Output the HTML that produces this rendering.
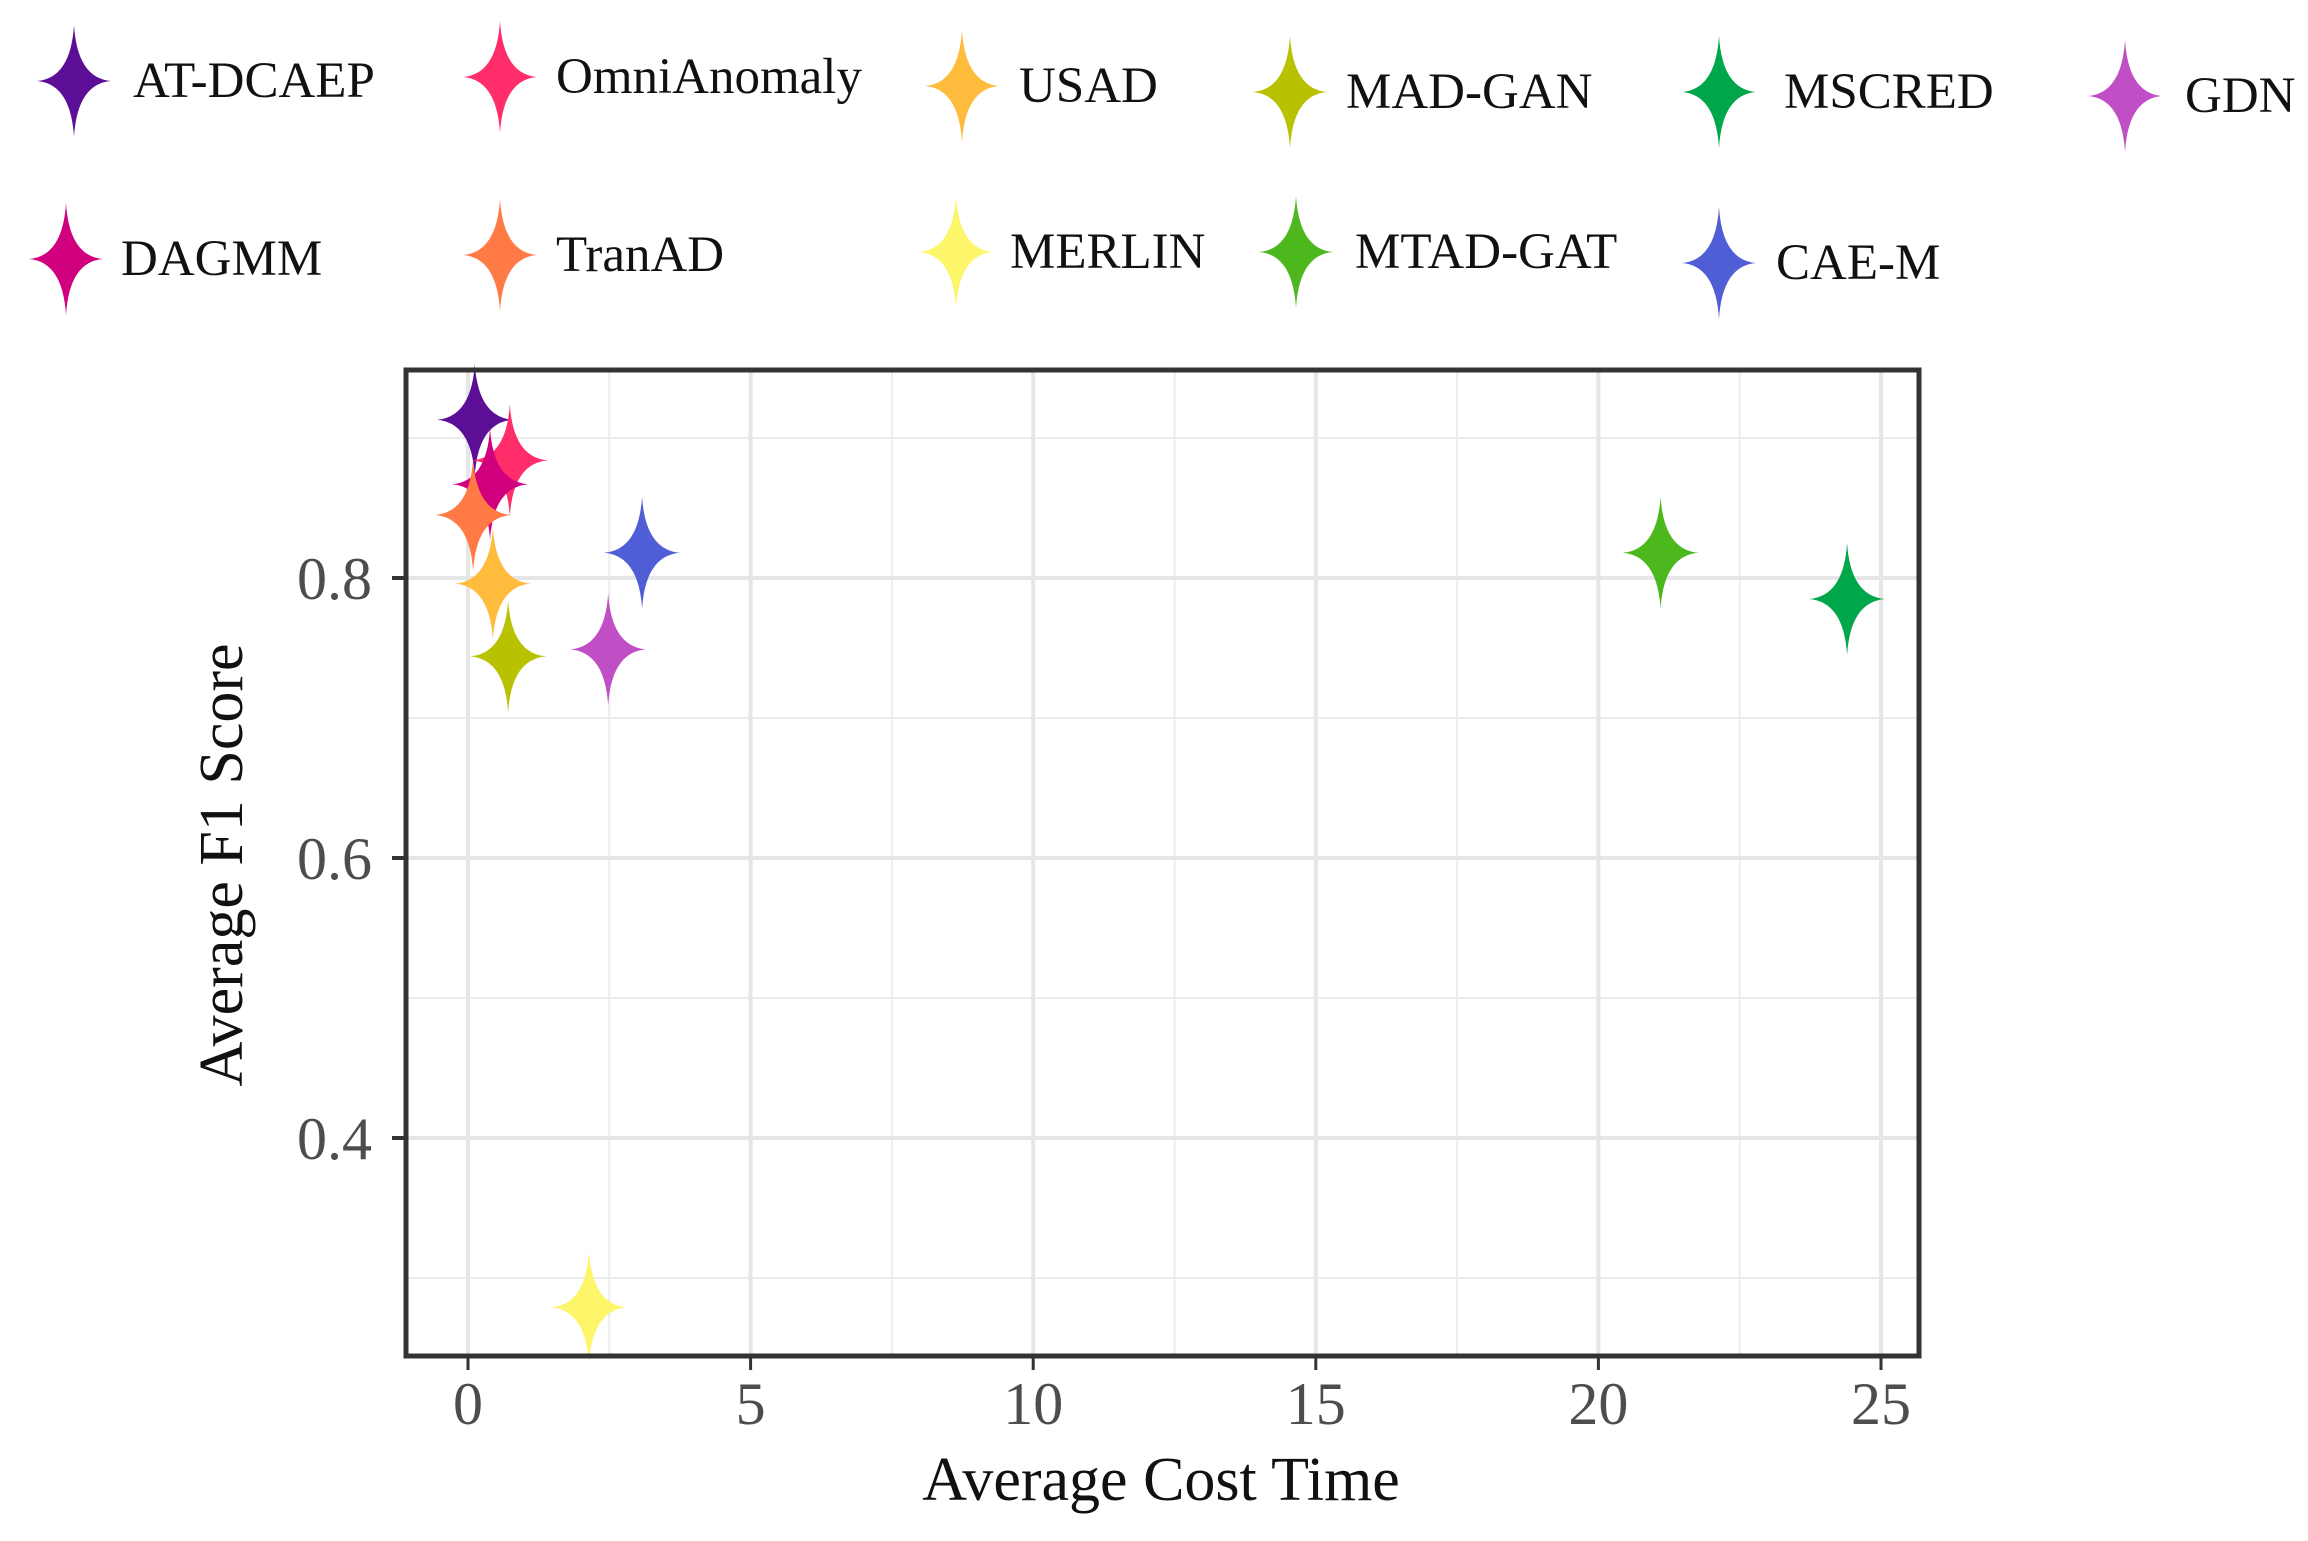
<!DOCTYPE html>
<html><head><meta charset="utf-8"><style>
html,body{margin:0;padding:0;background:#fff;}
svg{display:block;}
text{font-family:"Liberation Serif",serif;}
</style></head><body>
<svg id="chart" width="2308" height="1541" viewBox="0 0 2308 1541" xmlns="http://www.w3.org/2000/svg">
<g id="grid"></g>
<g id="marks"></g>
<rect x="406" y="370" width="1513" height="986" fill="none" stroke="#333" stroke-width="5"/>
<g id="axes"></g>
<g id="legend"></g>
<text x="1161" y="1500" font-size="62" text-anchor="middle" fill="#111">Average Cost Time</text>
<text x="0" y="0" font-size="62" text-anchor="middle" fill="#111" transform="translate(242,865) rotate(-90)">Average F1 Score</text>
</svg>
<script>
const methods=["AT-DCAEP","OmniAnomaly","USAD","MAD-GAN","MSCRED","GDN","DAGMM","TranAD","MERLIN","MTAD-GAT","CAE-M"];
const costTime=[0.12,0.74,0.44,0.71,24.4,2.48,0.39,0.09,2.14,21.1,3.08];
const f1Score=[0.913,0.884,0.796,0.744,0.785,0.749,0.867,0.845,0.279,0.818,0.818];
const colors=["#5c0f96","#ff2d6a","#ffbb3c","#b8c200","#00a64a","#c04fc6","#d1007f","#ff7a45","#fdf56a","#4cb81e","#505ed6"];
const xTicks=[0,5,10,15,20,25];
const xMinor=[2.5,7.5,12.5,17.5,22.5];
const yTicks=[0.4,0.6,0.8];
const yMinor=[0.3,0.5,0.7,0.9];
const yTickLabels=["0.4","0.6","0.8"];

const NS="http://www.w3.org/2000/svg";
const X0=406,X1=1919,Y0=370,Y1=1356;
function xs(v){return 468+(v-0)*(1881-468)/25;}
function ys(v){return 578-(v-0.8)*1400;}
function mk(tag,attrs,parent){const e=document.createElementNS(NS,tag);for(const k in attrs)e.setAttribute(k,attrs[k]);parent.appendChild(e);return e;}
function starPath(cx,cy,w,h){const a=w*0.09,b=h*0.05;
return `M${cx},${cy-h} Q${cx+a},${cy-b} ${cx+w},${cy} Q${cx+a},${cy+b} ${cx},${cy+h} Q${cx-a},${cy+b} ${cx-w},${cy} Q${cx-a},${cy-b} ${cx},${cy-h} Z`;}

const grid=document.getElementById('grid');
xMinor.forEach(v=>{const l=mk('line',{x1:xs(v),x2:xs(v),y1:Y0,y2:Y1,stroke:'#ececec','stroke-width':2},grid);

});
yMinor.forEach(v=>{const l=mk('line',{x1:X0,x2:X1,y1:ys(v),y2:ys(v),stroke:'#ececec','stroke-width':2},grid);

});
xTicks.forEach(v=>{const l=mk('line',{x1:xs(v),x2:xs(v),y1:Y0,y2:Y1,stroke:'#e6e6e6','stroke-width':4},grid);

});
yTicks.forEach(v=>{const l=mk('line',{x1:X0,x2:X1,y1:ys(v),y2:ys(v),stroke:'#e6e6e6','stroke-width':4},grid);

});

const axes=document.getElementById('axes');
xTicks.forEach(v=>{const t=mk('line',{x1:xs(v),x2:xs(v),y1:Y1,y2:Y1+14,stroke:'#333','stroke-width':3},axes);


const tx=mk('text',{x:xs(v),y:1424,'font-size':60,'text-anchor':'middle',fill:'#4d4d4d'},axes);tx.textContent=String(v);

});
yTicks.forEach((v,i)=>{const t=mk('line',{x1:X0-14,x2:X0,y1:ys(v),y2:ys(v),stroke:'#333','stroke-width':4},axes);


const tx=mk('text',{x:372,y:ys(v)+21,'font-size':60,'text-anchor':'end',fill:'#4d4d4d'},axes);tx.textContent=yTickLabels[i];

});

const marks=document.getElementById('marks');
methods.forEach((m,i)=>{const p=mk('path',{d:starPath(xs(costTime[i]),ys(f1Score[i]),38,56),fill:colors[i]},marks);

});

const legPos=[[74,81,133],[500,77,556],[962,86,1019],[1290,92,1346],[1719,92,1784],[2125,96,2185],[66,259,121],[500,255,556],[956,252,1010],[1296,252,1355],[1719,263,1776]];
const legend=document.getElementById('legend');
methods.forEach((m,i)=>{const [sx,sy,tx]=legPos[i];
const g=mk('g',{},legend);


const p=mk('path',{d:starPath(sx,sy,37,56),fill:colors[i]},g);


const t=mk('text',{x:tx,y:sy+16,'font-size':51,fill:'#111'},g);t.textContent=m;

});
</script>
</body></html>
